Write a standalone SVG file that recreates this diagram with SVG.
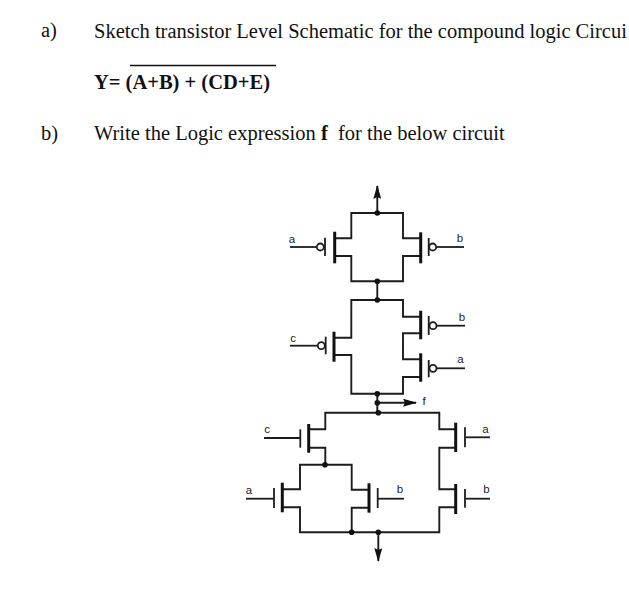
<svg xmlns="http://www.w3.org/2000/svg" width="629" height="596" viewBox="0 0 629 596">
<style>
.t{font-family:"Liberation Serif","Times New Roman",serif;font-size:20.5px;fill:#111}
.tb{font-weight:bold}
.l{font-family:"Liberation Sans",Arial,sans-serif;font-size:11.5px;fill:#222;text-anchor:middle}
.w{fill:none;stroke:#1c1c1c;stroke-width:1.9}
.ch{fill:none;stroke:#111;stroke-width:3}
.g{fill:none;stroke:#1c1c1c;stroke-width:1.8}
.b{fill:#fff;stroke:#1c1c1c;stroke-width:1.8}
.d{fill:#111}
</style>
<defs>
<marker id="ah" viewBox="0 0 14 8" refX="13" refY="4" markerWidth="14" markerHeight="8" markerUnits="userSpaceOnUse" orient="auto"><path d="M0 0L14 4L0 8L2 4Z" fill="#111"/></marker>
</defs>
<rect width="629" height="596" fill="#fff"/>
<g id="text">
<text class="t" x="41" y="36.500">a)</text>
<text class="t" x="94" y="37.500">Sketch transistor Level Schematic for the compound logic Circui</text>
<line x1="130" y1="65.500" x2="276" y2="65.500" stroke="#111" stroke-width="1.300"/>
<text class="t tb" x="94" y="89">Y= (A+B) + (CD+E)</text>
<text class="t" x="41" y="139.500">b)</text>
<text class="t" x="94" y="140" xml:space="preserve">Write the Logic expression <tspan class="tb">f</tspan>  for the below circuit</text>
</g>
<g id="connectors">
<path class="w" marker-end="url(#ah)" d="M377.300 213V186"/>
<path class="w" d="M335 238.300H351.300V213H403V238.300H421M335 256H351.300V281.300H403V256H421"/>
<path class="w" d="M377.300 281.300V300"/>
<path class="w" d="M335 337.700H351.300V300H403V316.700H421M421 333.300H403V359.300H421M335 355H351.300V393.700H403V377H421"/>
<path class="w" d="M377.300 393.700V412.700"/>
<path class="w" marker-end="url(#ah)" d="M377.300 402.700H416"/>
<path class="w" d="M309 429.300H325.300V412.700H439.300V429.300H456M309 447.700H325.300V464.700M456 447.700H439.300V489.300H456M282 489.300H300V464.700H351.700V489.700H369M282 507.300H300V532.300H439.300V507.300H456M369 507.700H351.700V532.300"/>
<path class="w" marker-end="url(#ah)" d="M378.300 532.300V561"/>
<circle class="d" cx="377.300" cy="213" r="2.800"/>
<circle class="d" cx="377.300" cy="281.300" r="2.800"/>
<circle class="d" cx="377.300" cy="300" r="2.800"/>
<circle class="d" cx="377.300" cy="393.700" r="2.800"/>
<circle class="d" cx="377.300" cy="402.700" r="2.800"/>
<circle class="d" cx="378.300" cy="412.700" r="2.800"/>
<circle class="d" cx="325" cy="464.700" r="2.800"/>
<circle class="d" cx="351.700" cy="532.300" r="2.800"/>
<circle class="d" cx="378.300" cy="532.300" r="2.800"/>
</g>
<g id="pmos-a-top">
<line class="ch" x1="334.700" y1="231.700" x2="334.700" y2="263.300"/><line class="g" x1="325" y1="237.700" x2="325" y2="256"/>
<circle class="b" cx="320.300" cy="247" r="3.500"/><line class="g" x1="290" y1="247" x2="316.800" y2="247"/>
<text class="l" x="292" y="243">a</text>
</g>
<g id="pmos-b-top">
<line class="ch" x1="420.700" y1="232.300" x2="420.700" y2="263.300"/><line class="g" x1="428.700" y1="238" x2="428.700" y2="256"/>
<circle class="b" cx="432.700" cy="247" r="3.500"/><line class="g" x1="436.200" y1="247" x2="464" y2="247"/>
<text class="l" x="460" y="242">b</text>
</g>
<g id="pmos-c">
<line class="ch" x1="334" y1="331.700" x2="334" y2="361.700"/><line class="g" x1="325.700" y1="336.700" x2="325.700" y2="354.300"/>
<circle class="b" cx="321.300" cy="345.700" r="3.500"/><line class="g" x1="290" y1="345.700" x2="317.800" y2="345.700"/>
<text class="l" x="293" y="341.500">c</text>
</g>
<g id="pmos-b-mid">
<line class="ch" x1="420.700" y1="310.700" x2="420.700" y2="339.300"/><line class="g" x1="428.700" y1="316" x2="428.700" y2="335"/>
<circle class="b" cx="433" cy="325.700" r="3.500"/><line class="g" x1="436.500" y1="325.700" x2="465" y2="325.700"/>
<text class="l" x="462" y="320.500">b</text>
</g>
<g id="pmos-a-mid">
<line class="ch" x1="420.700" y1="353.300" x2="420.700" y2="381.700"/><line class="g" x1="428.700" y1="360" x2="428.700" y2="377.300"/>
<circle class="b" cx="433" cy="368.300" r="3.500"/><line class="g" x1="436.500" y1="368.300" x2="465" y2="368.300"/>
<text class="l" x="460.500" y="363">a</text>
</g>
<g id="output-f"><text class="l" x="424" y="405">f</text></g>
<g id="nmos-c">
<line class="ch" x1="308.700" y1="424" x2="308.700" y2="452.700"/><line class="g" x1="300.300" y1="429.300" x2="300.300" y2="447.700"/>
<line class="g" x1="264" y1="438" x2="300" y2="438"/>
<text class="l" x="267" y="433">c</text>
</g>
<g id="nmos-a-left">
<line class="ch" x1="282.300" y1="482.700" x2="282.300" y2="512.300"/><line class="g" x1="274" y1="488" x2="274" y2="508"/>
<line class="g" x1="246" y1="498.700" x2="274" y2="498.700"/>
<text class="l" x="249" y="493.500">a</text>
</g>
<g id="nmos-b-mid">
<line class="ch" x1="369" y1="483.300" x2="369" y2="512.700"/><line class="g" x1="377.700" y1="488" x2="377.700" y2="508"/>
<line class="g" x1="377.700" y1="498.700" x2="404" y2="498.700"/>
<text class="l" x="400" y="493">b</text>
</g>
<g id="nmos-a-right">
<line class="ch" x1="455.700" y1="422.700" x2="455.700" y2="452"/><line class="g" x1="465" y1="427.300" x2="465" y2="447.300"/>
<line class="g" x1="465" y1="437.300" x2="490" y2="437.300"/>
<text class="l" x="485.500" y="433">a</text>
</g>
<g id="nmos-b-right">
<line class="ch" x1="455.700" y1="484" x2="455.700" y2="514"/><line class="g" x1="465" y1="489" x2="465" y2="507.700"/>
<line class="g" x1="465" y1="498.700" x2="490" y2="498.700"/>
<text class="l" x="486.500" y="493">b</text>
</g>
</svg>
